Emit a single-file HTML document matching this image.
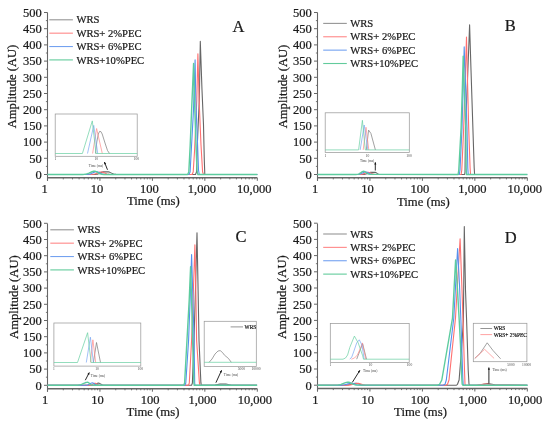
<!DOCTYPE html>
<html><head><meta charset="utf-8"><style>
html,body{margin:0;padding:0;background:#fff;}
svg{display:block;}
</style></head><body>
<svg width="550" height="423" viewBox="0 0 550 423" font-family="'Liberation Serif','Times New Roman',serif"><style>text.m{stroke:#1a1a1a;stroke-width:0.22px;paint-order:stroke}</style>
<rect width="550" height="423" fill="#fff"/>
<line x1="47.5" y1="12.5" x2="47.5" y2="180.8" stroke="#666" stroke-width="1.1"/>
<line x1="47.5" y1="177.8" x2="257.3" y2="177.8" stroke="#666" stroke-width="1.5"/>
<line x1="44" y1="174.5" x2="47.5" y2="174.5" stroke="#666" stroke-width="1.0"/>
<line x1="45.9" y1="166.4" x2="47.5" y2="166.4" stroke="#666" stroke-width="0.9"/>
<line x1="44" y1="158.3" x2="47.5" y2="158.3" stroke="#666" stroke-width="1.0"/>
<line x1="45.9" y1="150.2" x2="47.5" y2="150.2" stroke="#666" stroke-width="0.9"/>
<line x1="44" y1="142.1" x2="47.5" y2="142.1" stroke="#666" stroke-width="1.0"/>
<line x1="45.9" y1="134" x2="47.5" y2="134" stroke="#666" stroke-width="0.9"/>
<line x1="44" y1="125.9" x2="47.5" y2="125.9" stroke="#666" stroke-width="1.0"/>
<line x1="45.9" y1="117.8" x2="47.5" y2="117.8" stroke="#666" stroke-width="0.9"/>
<line x1="44" y1="109.7" x2="47.5" y2="109.7" stroke="#666" stroke-width="1.0"/>
<line x1="45.9" y1="101.6" x2="47.5" y2="101.6" stroke="#666" stroke-width="0.9"/>
<line x1="44" y1="93.5" x2="47.5" y2="93.5" stroke="#666" stroke-width="1.0"/>
<line x1="45.9" y1="85.4" x2="47.5" y2="85.4" stroke="#666" stroke-width="0.9"/>
<line x1="44" y1="77.3" x2="47.5" y2="77.3" stroke="#666" stroke-width="1.0"/>
<line x1="45.9" y1="69.2" x2="47.5" y2="69.2" stroke="#666" stroke-width="0.9"/>
<line x1="44" y1="61.1" x2="47.5" y2="61.1" stroke="#666" stroke-width="1.0"/>
<line x1="45.9" y1="53" x2="47.5" y2="53" stroke="#666" stroke-width="0.9"/>
<line x1="44" y1="44.9" x2="47.5" y2="44.9" stroke="#666" stroke-width="1.0"/>
<line x1="45.9" y1="36.8" x2="47.5" y2="36.8" stroke="#666" stroke-width="0.9"/>
<line x1="44" y1="28.7" x2="47.5" y2="28.7" stroke="#666" stroke-width="1.0"/>
<line x1="45.9" y1="20.6" x2="47.5" y2="20.6" stroke="#666" stroke-width="0.9"/>
<line x1="44" y1="12.5" x2="47.5" y2="12.5" stroke="#666" stroke-width="1.0"/>
<text class="m" x="41.7" y="178.8" font-size="12.5" text-anchor="end" fill="#1a1a1a" >0</text>
<text class="m" x="41.7" y="162.6" font-size="12.5" text-anchor="end" fill="#1a1a1a" >50</text>
<text class="m" x="41.7" y="146.4" font-size="12.5" text-anchor="end" fill="#1a1a1a" >100</text>
<text class="m" x="41.7" y="130.2" font-size="12.5" text-anchor="end" fill="#1a1a1a" >150</text>
<text class="m" x="41.7" y="114" font-size="12.5" text-anchor="end" fill="#1a1a1a" >200</text>
<text class="m" x="41.7" y="97.8" font-size="12.5" text-anchor="end" fill="#1a1a1a" >250</text>
<text class="m" x="41.7" y="81.6" font-size="12.5" text-anchor="end" fill="#1a1a1a" >300</text>
<text class="m" x="41.7" y="65.4" font-size="12.5" text-anchor="end" fill="#1a1a1a" >350</text>
<text class="m" x="41.7" y="49.2" font-size="12.5" text-anchor="end" fill="#1a1a1a" >400</text>
<text class="m" x="41.7" y="33" font-size="12.5" text-anchor="end" fill="#1a1a1a" >450</text>
<text class="m" x="41.7" y="16.8" font-size="12.5" text-anchor="end" fill="#1a1a1a" >500</text>
<line x1="47.5" y1="177.8" x2="47.5" y2="180.8" stroke="#666" stroke-width="1.0"/>
<line x1="63.29" y1="177.8" x2="63.29" y2="179.4" stroke="#666" stroke-width="0.9"/>
<line x1="72.53" y1="177.8" x2="72.53" y2="179.4" stroke="#666" stroke-width="0.9"/>
<line x1="79.08" y1="177.8" x2="79.08" y2="179.4" stroke="#666" stroke-width="0.9"/>
<line x1="84.16" y1="177.8" x2="84.16" y2="179.4" stroke="#666" stroke-width="0.9"/>
<line x1="88.31" y1="177.8" x2="88.31" y2="179.4" stroke="#666" stroke-width="0.9"/>
<line x1="91.83" y1="177.8" x2="91.83" y2="179.4" stroke="#666" stroke-width="0.9"/>
<line x1="94.87" y1="177.8" x2="94.87" y2="179.4" stroke="#666" stroke-width="0.9"/>
<line x1="97.55" y1="177.8" x2="97.55" y2="179.4" stroke="#666" stroke-width="0.9"/>
<line x1="99.95" y1="177.8" x2="99.95" y2="180.8" stroke="#666" stroke-width="1.0"/>
<line x1="115.74" y1="177.8" x2="115.74" y2="179.4" stroke="#666" stroke-width="0.9"/>
<line x1="124.98" y1="177.8" x2="124.98" y2="179.4" stroke="#666" stroke-width="0.9"/>
<line x1="131.53" y1="177.8" x2="131.53" y2="179.4" stroke="#666" stroke-width="0.9"/>
<line x1="136.61" y1="177.8" x2="136.61" y2="179.4" stroke="#666" stroke-width="0.9"/>
<line x1="140.76" y1="177.8" x2="140.76" y2="179.4" stroke="#666" stroke-width="0.9"/>
<line x1="144.28" y1="177.8" x2="144.28" y2="179.4" stroke="#666" stroke-width="0.9"/>
<line x1="147.32" y1="177.8" x2="147.32" y2="179.4" stroke="#666" stroke-width="0.9"/>
<line x1="150" y1="177.8" x2="150" y2="179.4" stroke="#666" stroke-width="0.9"/>
<line x1="152.4" y1="177.8" x2="152.4" y2="180.8" stroke="#666" stroke-width="1.0"/>
<line x1="168.19" y1="177.8" x2="168.19" y2="179.4" stroke="#666" stroke-width="0.9"/>
<line x1="177.43" y1="177.8" x2="177.43" y2="179.4" stroke="#666" stroke-width="0.9"/>
<line x1="183.98" y1="177.8" x2="183.98" y2="179.4" stroke="#666" stroke-width="0.9"/>
<line x1="189.06" y1="177.8" x2="189.06" y2="179.4" stroke="#666" stroke-width="0.9"/>
<line x1="193.21" y1="177.8" x2="193.21" y2="179.4" stroke="#666" stroke-width="0.9"/>
<line x1="196.73" y1="177.8" x2="196.73" y2="179.4" stroke="#666" stroke-width="0.9"/>
<line x1="199.77" y1="177.8" x2="199.77" y2="179.4" stroke="#666" stroke-width="0.9"/>
<line x1="202.45" y1="177.8" x2="202.45" y2="179.4" stroke="#666" stroke-width="0.9"/>
<line x1="204.85" y1="177.8" x2="204.85" y2="180.8" stroke="#666" stroke-width="1.0"/>
<line x1="220.64" y1="177.8" x2="220.64" y2="179.4" stroke="#666" stroke-width="0.9"/>
<line x1="229.88" y1="177.8" x2="229.88" y2="179.4" stroke="#666" stroke-width="0.9"/>
<line x1="236.43" y1="177.8" x2="236.43" y2="179.4" stroke="#666" stroke-width="0.9"/>
<line x1="241.51" y1="177.8" x2="241.51" y2="179.4" stroke="#666" stroke-width="0.9"/>
<line x1="245.66" y1="177.8" x2="245.66" y2="179.4" stroke="#666" stroke-width="0.9"/>
<line x1="249.18" y1="177.8" x2="249.18" y2="179.4" stroke="#666" stroke-width="0.9"/>
<line x1="252.22" y1="177.8" x2="252.22" y2="179.4" stroke="#666" stroke-width="0.9"/>
<line x1="254.9" y1="177.8" x2="254.9" y2="179.4" stroke="#666" stroke-width="0.9"/>
<line x1="257.3" y1="177.8" x2="257.3" y2="180.8" stroke="#666" stroke-width="1.0"/>
<text class="m" x="44.5" y="193.1" font-size="12.5" text-anchor="middle" fill="#1a1a1a" >1</text>
<text class="m" x="96.95" y="193.1" font-size="12.5" text-anchor="middle" fill="#1a1a1a" >10</text>
<text class="m" x="149.4" y="193.1" font-size="12.5" text-anchor="middle" fill="#1a1a1a" >100</text>
<text class="m" x="201.85" y="193.1" font-size="12.5" text-anchor="middle" fill="#1a1a1a" >1,000</text>
<text class="m" x="254.3" y="193.1" font-size="12.5" text-anchor="middle" fill="#1a1a1a" >10,000</text>
<text class="m" x="153.4" y="205" font-size="12.7" text-anchor="middle" fill="#1a1a1a" >Time (ms)</text>
<text class="m" x="0" y="0" font-size="12.6" text-anchor="middle" fill="#1a1a1a" transform="translate(16.1,86.5) rotate(-90)">Amplitude (AU)</text>
<text class="m" x="232.6" y="32" font-size="16.5" text-anchor="start" fill="#1a1a1a" >A</text>
<line x1="49.3" y1="19.8" x2="72.9" y2="19.8" stroke="#959595" stroke-width="1.1"/>
<text class="m" x="76.4" y="23.4" font-size="10.6" text-anchor="start" fill="#1a1a1a" >WRS</text>
<line x1="49.3" y1="33.17" x2="72.9" y2="33.17" stroke="#ff8888" stroke-width="1.1"/>
<text class="m" x="76.4" y="36.77" font-size="10.6" text-anchor="start" fill="#1a1a1a" >WRS+ 2%PEC</text>
<line x1="49.3" y1="46.54" x2="72.9" y2="46.54" stroke="#74a2f0" stroke-width="1.1"/>
<text class="m" x="76.4" y="50.14" font-size="10.6" text-anchor="start" fill="#1a1a1a" >WRS+ 6%PEC</text>
<line x1="49.3" y1="59.91" x2="72.9" y2="59.91" stroke="#62cb9c" stroke-width="1.1"/>
<text class="m" x="76.4" y="63.51" font-size="10.6" text-anchor="start" fill="#1a1a1a" >WRS+10%PEC</text>
<line x1="317.5" y1="12.5" x2="317.5" y2="180.8" stroke="#666" stroke-width="1.1"/>
<line x1="317.5" y1="177.8" x2="527.4" y2="177.8" stroke="#666" stroke-width="1.5"/>
<line x1="314" y1="174.5" x2="317.5" y2="174.5" stroke="#666" stroke-width="1.0"/>
<line x1="315.9" y1="166.4" x2="317.5" y2="166.4" stroke="#666" stroke-width="0.9"/>
<line x1="314" y1="158.3" x2="317.5" y2="158.3" stroke="#666" stroke-width="1.0"/>
<line x1="315.9" y1="150.2" x2="317.5" y2="150.2" stroke="#666" stroke-width="0.9"/>
<line x1="314" y1="142.1" x2="317.5" y2="142.1" stroke="#666" stroke-width="1.0"/>
<line x1="315.9" y1="134" x2="317.5" y2="134" stroke="#666" stroke-width="0.9"/>
<line x1="314" y1="125.9" x2="317.5" y2="125.9" stroke="#666" stroke-width="1.0"/>
<line x1="315.9" y1="117.8" x2="317.5" y2="117.8" stroke="#666" stroke-width="0.9"/>
<line x1="314" y1="109.7" x2="317.5" y2="109.7" stroke="#666" stroke-width="1.0"/>
<line x1="315.9" y1="101.6" x2="317.5" y2="101.6" stroke="#666" stroke-width="0.9"/>
<line x1="314" y1="93.5" x2="317.5" y2="93.5" stroke="#666" stroke-width="1.0"/>
<line x1="315.9" y1="85.4" x2="317.5" y2="85.4" stroke="#666" stroke-width="0.9"/>
<line x1="314" y1="77.3" x2="317.5" y2="77.3" stroke="#666" stroke-width="1.0"/>
<line x1="315.9" y1="69.2" x2="317.5" y2="69.2" stroke="#666" stroke-width="0.9"/>
<line x1="314" y1="61.1" x2="317.5" y2="61.1" stroke="#666" stroke-width="1.0"/>
<line x1="315.9" y1="53" x2="317.5" y2="53" stroke="#666" stroke-width="0.9"/>
<line x1="314" y1="44.9" x2="317.5" y2="44.9" stroke="#666" stroke-width="1.0"/>
<line x1="315.9" y1="36.8" x2="317.5" y2="36.8" stroke="#666" stroke-width="0.9"/>
<line x1="314" y1="28.7" x2="317.5" y2="28.7" stroke="#666" stroke-width="1.0"/>
<line x1="315.9" y1="20.6" x2="317.5" y2="20.6" stroke="#666" stroke-width="0.9"/>
<line x1="314" y1="12.5" x2="317.5" y2="12.5" stroke="#666" stroke-width="1.0"/>
<text class="m" x="311.7" y="178.8" font-size="12.5" text-anchor="end" fill="#1a1a1a" >0</text>
<text class="m" x="311.7" y="162.6" font-size="12.5" text-anchor="end" fill="#1a1a1a" >50</text>
<text class="m" x="311.7" y="146.4" font-size="12.5" text-anchor="end" fill="#1a1a1a" >100</text>
<text class="m" x="311.7" y="130.2" font-size="12.5" text-anchor="end" fill="#1a1a1a" >150</text>
<text class="m" x="311.7" y="114" font-size="12.5" text-anchor="end" fill="#1a1a1a" >200</text>
<text class="m" x="311.7" y="97.8" font-size="12.5" text-anchor="end" fill="#1a1a1a" >250</text>
<text class="m" x="311.7" y="81.6" font-size="12.5" text-anchor="end" fill="#1a1a1a" >300</text>
<text class="m" x="311.7" y="65.4" font-size="12.5" text-anchor="end" fill="#1a1a1a" >350</text>
<text class="m" x="311.7" y="49.2" font-size="12.5" text-anchor="end" fill="#1a1a1a" >400</text>
<text class="m" x="311.7" y="33" font-size="12.5" text-anchor="end" fill="#1a1a1a" >450</text>
<text class="m" x="311.7" y="16.8" font-size="12.5" text-anchor="end" fill="#1a1a1a" >500</text>
<line x1="317.5" y1="177.8" x2="317.5" y2="180.8" stroke="#666" stroke-width="1.0"/>
<line x1="333.29" y1="177.8" x2="333.29" y2="179.4" stroke="#666" stroke-width="0.9"/>
<line x1="342.53" y1="177.8" x2="342.53" y2="179.4" stroke="#666" stroke-width="0.9"/>
<line x1="349.08" y1="177.8" x2="349.08" y2="179.4" stroke="#666" stroke-width="0.9"/>
<line x1="354.16" y1="177.8" x2="354.16" y2="179.4" stroke="#666" stroke-width="0.9"/>
<line x1="358.31" y1="177.8" x2="358.31" y2="179.4" stroke="#666" stroke-width="0.9"/>
<line x1="361.83" y1="177.8" x2="361.83" y2="179.4" stroke="#666" stroke-width="0.9"/>
<line x1="364.87" y1="177.8" x2="364.87" y2="179.4" stroke="#666" stroke-width="0.9"/>
<line x1="367.55" y1="177.8" x2="367.55" y2="179.4" stroke="#666" stroke-width="0.9"/>
<line x1="369.95" y1="177.8" x2="369.95" y2="180.8" stroke="#666" stroke-width="1.0"/>
<line x1="385.74" y1="177.8" x2="385.74" y2="179.4" stroke="#666" stroke-width="0.9"/>
<line x1="394.98" y1="177.8" x2="394.98" y2="179.4" stroke="#666" stroke-width="0.9"/>
<line x1="401.53" y1="177.8" x2="401.53" y2="179.4" stroke="#666" stroke-width="0.9"/>
<line x1="406.61" y1="177.8" x2="406.61" y2="179.4" stroke="#666" stroke-width="0.9"/>
<line x1="410.76" y1="177.8" x2="410.76" y2="179.4" stroke="#666" stroke-width="0.9"/>
<line x1="414.28" y1="177.8" x2="414.28" y2="179.4" stroke="#666" stroke-width="0.9"/>
<line x1="417.32" y1="177.8" x2="417.32" y2="179.4" stroke="#666" stroke-width="0.9"/>
<line x1="420" y1="177.8" x2="420" y2="179.4" stroke="#666" stroke-width="0.9"/>
<line x1="422.4" y1="177.8" x2="422.4" y2="180.8" stroke="#666" stroke-width="1.0"/>
<line x1="438.19" y1="177.8" x2="438.19" y2="179.4" stroke="#666" stroke-width="0.9"/>
<line x1="447.43" y1="177.8" x2="447.43" y2="179.4" stroke="#666" stroke-width="0.9"/>
<line x1="453.98" y1="177.8" x2="453.98" y2="179.4" stroke="#666" stroke-width="0.9"/>
<line x1="459.06" y1="177.8" x2="459.06" y2="179.4" stroke="#666" stroke-width="0.9"/>
<line x1="463.21" y1="177.8" x2="463.21" y2="179.4" stroke="#666" stroke-width="0.9"/>
<line x1="466.73" y1="177.8" x2="466.73" y2="179.4" stroke="#666" stroke-width="0.9"/>
<line x1="469.77" y1="177.8" x2="469.77" y2="179.4" stroke="#666" stroke-width="0.9"/>
<line x1="472.45" y1="177.8" x2="472.45" y2="179.4" stroke="#666" stroke-width="0.9"/>
<line x1="474.85" y1="177.8" x2="474.85" y2="180.8" stroke="#666" stroke-width="1.0"/>
<line x1="490.64" y1="177.8" x2="490.64" y2="179.4" stroke="#666" stroke-width="0.9"/>
<line x1="499.88" y1="177.8" x2="499.88" y2="179.4" stroke="#666" stroke-width="0.9"/>
<line x1="506.43" y1="177.8" x2="506.43" y2="179.4" stroke="#666" stroke-width="0.9"/>
<line x1="511.51" y1="177.8" x2="511.51" y2="179.4" stroke="#666" stroke-width="0.9"/>
<line x1="515.66" y1="177.8" x2="515.66" y2="179.4" stroke="#666" stroke-width="0.9"/>
<line x1="519.18" y1="177.8" x2="519.18" y2="179.4" stroke="#666" stroke-width="0.9"/>
<line x1="522.22" y1="177.8" x2="522.22" y2="179.4" stroke="#666" stroke-width="0.9"/>
<line x1="524.9" y1="177.8" x2="524.9" y2="179.4" stroke="#666" stroke-width="0.9"/>
<line x1="527.3" y1="177.8" x2="527.3" y2="180.8" stroke="#666" stroke-width="1.0"/>
<text class="m" x="315" y="193.1" font-size="12.5" text-anchor="middle" fill="#1a1a1a" >1</text>
<text class="m" x="367.45" y="193.1" font-size="12.5" text-anchor="middle" fill="#1a1a1a" >10</text>
<text class="m" x="419.9" y="193.1" font-size="12.5" text-anchor="middle" fill="#1a1a1a" >100</text>
<text class="m" x="472.35" y="193.1" font-size="12.5" text-anchor="middle" fill="#1a1a1a" >1,000</text>
<text class="m" x="524.8" y="193.1" font-size="12.5" text-anchor="middle" fill="#1a1a1a" >10,000</text>
<text class="m" x="423.4" y="205.5" font-size="12.7" text-anchor="middle" fill="#1a1a1a" >Time (ms)</text>
<text class="m" x="0" y="0" font-size="12.6" text-anchor="middle" fill="#1a1a1a" transform="translate(287.1,86.5) rotate(-90)">Amplitude (AU)</text>
<text class="m" x="504.7" y="30.9" font-size="16.5" text-anchor="start" fill="#1a1a1a" >B</text>
<line x1="323.2" y1="23.4" x2="346.8" y2="23.4" stroke="#959595" stroke-width="1.1"/>
<text class="m" x="350.3" y="27" font-size="10.6" text-anchor="start" fill="#1a1a1a" >WRS</text>
<line x1="323.2" y1="36.77" x2="346.8" y2="36.77" stroke="#ff8888" stroke-width="1.1"/>
<text class="m" x="350.3" y="40.37" font-size="10.6" text-anchor="start" fill="#1a1a1a" >WRS+ 2%PEC</text>
<line x1="323.2" y1="50.14" x2="346.8" y2="50.14" stroke="#74a2f0" stroke-width="1.1"/>
<text class="m" x="350.3" y="53.74" font-size="10.6" text-anchor="start" fill="#1a1a1a" >WRS+ 6%PEC</text>
<line x1="323.2" y1="63.51" x2="346.8" y2="63.51" stroke="#62cb9c" stroke-width="1.1"/>
<text class="m" x="350.3" y="67.11" font-size="10.6" text-anchor="start" fill="#1a1a1a" >WRS+10%PEC</text>
<line x1="47.5" y1="223.5" x2="47.5" y2="391.7" stroke="#666" stroke-width="1.1"/>
<line x1="47.5" y1="388.7" x2="257.3" y2="388.7" stroke="#666" stroke-width="1.5"/>
<line x1="44" y1="385.3" x2="47.5" y2="385.3" stroke="#666" stroke-width="1.0"/>
<line x1="45.9" y1="377.2" x2="47.5" y2="377.2" stroke="#666" stroke-width="0.9"/>
<line x1="44" y1="369.1" x2="47.5" y2="369.1" stroke="#666" stroke-width="1.0"/>
<line x1="45.9" y1="361" x2="47.5" y2="361" stroke="#666" stroke-width="0.9"/>
<line x1="44" y1="352.9" x2="47.5" y2="352.9" stroke="#666" stroke-width="1.0"/>
<line x1="45.9" y1="344.8" x2="47.5" y2="344.8" stroke="#666" stroke-width="0.9"/>
<line x1="44" y1="336.7" x2="47.5" y2="336.7" stroke="#666" stroke-width="1.0"/>
<line x1="45.9" y1="328.6" x2="47.5" y2="328.6" stroke="#666" stroke-width="0.9"/>
<line x1="44" y1="320.5" x2="47.5" y2="320.5" stroke="#666" stroke-width="1.0"/>
<line x1="45.9" y1="312.4" x2="47.5" y2="312.4" stroke="#666" stroke-width="0.9"/>
<line x1="44" y1="304.3" x2="47.5" y2="304.3" stroke="#666" stroke-width="1.0"/>
<line x1="45.9" y1="296.2" x2="47.5" y2="296.2" stroke="#666" stroke-width="0.9"/>
<line x1="44" y1="288.1" x2="47.5" y2="288.1" stroke="#666" stroke-width="1.0"/>
<line x1="45.9" y1="280" x2="47.5" y2="280" stroke="#666" stroke-width="0.9"/>
<line x1="44" y1="271.9" x2="47.5" y2="271.9" stroke="#666" stroke-width="1.0"/>
<line x1="45.9" y1="263.8" x2="47.5" y2="263.8" stroke="#666" stroke-width="0.9"/>
<line x1="44" y1="255.7" x2="47.5" y2="255.7" stroke="#666" stroke-width="1.0"/>
<line x1="45.9" y1="247.6" x2="47.5" y2="247.6" stroke="#666" stroke-width="0.9"/>
<line x1="44" y1="239.5" x2="47.5" y2="239.5" stroke="#666" stroke-width="1.0"/>
<line x1="45.9" y1="231.4" x2="47.5" y2="231.4" stroke="#666" stroke-width="0.9"/>
<line x1="44" y1="223.3" x2="47.5" y2="223.3" stroke="#666" stroke-width="1.0"/>
<text class="m" x="41.7" y="389.6" font-size="12.5" text-anchor="end" fill="#1a1a1a" >0</text>
<text class="m" x="41.7" y="373.4" font-size="12.5" text-anchor="end" fill="#1a1a1a" >50</text>
<text class="m" x="41.7" y="357.2" font-size="12.5" text-anchor="end" fill="#1a1a1a" >100</text>
<text class="m" x="41.7" y="341" font-size="12.5" text-anchor="end" fill="#1a1a1a" >150</text>
<text class="m" x="41.7" y="324.8" font-size="12.5" text-anchor="end" fill="#1a1a1a" >200</text>
<text class="m" x="41.7" y="308.6" font-size="12.5" text-anchor="end" fill="#1a1a1a" >250</text>
<text class="m" x="41.7" y="292.4" font-size="12.5" text-anchor="end" fill="#1a1a1a" >300</text>
<text class="m" x="41.7" y="276.2" font-size="12.5" text-anchor="end" fill="#1a1a1a" >350</text>
<text class="m" x="41.7" y="260" font-size="12.5" text-anchor="end" fill="#1a1a1a" >400</text>
<text class="m" x="41.7" y="243.8" font-size="12.5" text-anchor="end" fill="#1a1a1a" >450</text>
<text class="m" x="41.7" y="227.6" font-size="12.5" text-anchor="end" fill="#1a1a1a" >500</text>
<line x1="47.5" y1="388.7" x2="47.5" y2="391.7" stroke="#666" stroke-width="1.0"/>
<line x1="63.29" y1="388.7" x2="63.29" y2="390.3" stroke="#666" stroke-width="0.9"/>
<line x1="72.53" y1="388.7" x2="72.53" y2="390.3" stroke="#666" stroke-width="0.9"/>
<line x1="79.08" y1="388.7" x2="79.08" y2="390.3" stroke="#666" stroke-width="0.9"/>
<line x1="84.16" y1="388.7" x2="84.16" y2="390.3" stroke="#666" stroke-width="0.9"/>
<line x1="88.31" y1="388.7" x2="88.31" y2="390.3" stroke="#666" stroke-width="0.9"/>
<line x1="91.83" y1="388.7" x2="91.83" y2="390.3" stroke="#666" stroke-width="0.9"/>
<line x1="94.87" y1="388.7" x2="94.87" y2="390.3" stroke="#666" stroke-width="0.9"/>
<line x1="97.55" y1="388.7" x2="97.55" y2="390.3" stroke="#666" stroke-width="0.9"/>
<line x1="99.95" y1="388.7" x2="99.95" y2="391.7" stroke="#666" stroke-width="1.0"/>
<line x1="115.74" y1="388.7" x2="115.74" y2="390.3" stroke="#666" stroke-width="0.9"/>
<line x1="124.98" y1="388.7" x2="124.98" y2="390.3" stroke="#666" stroke-width="0.9"/>
<line x1="131.53" y1="388.7" x2="131.53" y2="390.3" stroke="#666" stroke-width="0.9"/>
<line x1="136.61" y1="388.7" x2="136.61" y2="390.3" stroke="#666" stroke-width="0.9"/>
<line x1="140.76" y1="388.7" x2="140.76" y2="390.3" stroke="#666" stroke-width="0.9"/>
<line x1="144.28" y1="388.7" x2="144.28" y2="390.3" stroke="#666" stroke-width="0.9"/>
<line x1="147.32" y1="388.7" x2="147.32" y2="390.3" stroke="#666" stroke-width="0.9"/>
<line x1="150" y1="388.7" x2="150" y2="390.3" stroke="#666" stroke-width="0.9"/>
<line x1="152.4" y1="388.7" x2="152.4" y2="391.7" stroke="#666" stroke-width="1.0"/>
<line x1="168.19" y1="388.7" x2="168.19" y2="390.3" stroke="#666" stroke-width="0.9"/>
<line x1="177.43" y1="388.7" x2="177.43" y2="390.3" stroke="#666" stroke-width="0.9"/>
<line x1="183.98" y1="388.7" x2="183.98" y2="390.3" stroke="#666" stroke-width="0.9"/>
<line x1="189.06" y1="388.7" x2="189.06" y2="390.3" stroke="#666" stroke-width="0.9"/>
<line x1="193.21" y1="388.7" x2="193.21" y2="390.3" stroke="#666" stroke-width="0.9"/>
<line x1="196.73" y1="388.7" x2="196.73" y2="390.3" stroke="#666" stroke-width="0.9"/>
<line x1="199.77" y1="388.7" x2="199.77" y2="390.3" stroke="#666" stroke-width="0.9"/>
<line x1="202.45" y1="388.7" x2="202.45" y2="390.3" stroke="#666" stroke-width="0.9"/>
<line x1="204.85" y1="388.7" x2="204.85" y2="391.7" stroke="#666" stroke-width="1.0"/>
<line x1="220.64" y1="388.7" x2="220.64" y2="390.3" stroke="#666" stroke-width="0.9"/>
<line x1="229.88" y1="388.7" x2="229.88" y2="390.3" stroke="#666" stroke-width="0.9"/>
<line x1="236.43" y1="388.7" x2="236.43" y2="390.3" stroke="#666" stroke-width="0.9"/>
<line x1="241.51" y1="388.7" x2="241.51" y2="390.3" stroke="#666" stroke-width="0.9"/>
<line x1="245.66" y1="388.7" x2="245.66" y2="390.3" stroke="#666" stroke-width="0.9"/>
<line x1="249.18" y1="388.7" x2="249.18" y2="390.3" stroke="#666" stroke-width="0.9"/>
<line x1="252.22" y1="388.7" x2="252.22" y2="390.3" stroke="#666" stroke-width="0.9"/>
<line x1="254.9" y1="388.7" x2="254.9" y2="390.3" stroke="#666" stroke-width="0.9"/>
<line x1="257.3" y1="388.7" x2="257.3" y2="391.7" stroke="#666" stroke-width="1.0"/>
<text class="m" x="45.1" y="404.3" font-size="12.5" text-anchor="middle" fill="#1a1a1a" >1</text>
<text class="m" x="97.55" y="404.3" font-size="12.5" text-anchor="middle" fill="#1a1a1a" >10</text>
<text class="m" x="150" y="404.3" font-size="12.5" text-anchor="middle" fill="#1a1a1a" >100</text>
<text class="m" x="202.45" y="404.3" font-size="12.5" text-anchor="middle" fill="#1a1a1a" >1,000</text>
<text class="m" x="254.9" y="404.3" font-size="12.5" text-anchor="middle" fill="#1a1a1a" >10,000</text>
<text class="m" x="153" y="416.3" font-size="12.7" text-anchor="middle" fill="#1a1a1a" >Time (ms)</text>
<text class="m" x="0" y="0" font-size="12.6" text-anchor="middle" fill="#1a1a1a" transform="translate(17.8,297.1) rotate(-90)">Amplitude (AU)</text>
<text class="m" x="235.5" y="242" font-size="16.5" text-anchor="start" fill="#1a1a1a" >C</text>
<line x1="50.3" y1="229.8" x2="73.9" y2="229.8" stroke="#959595" stroke-width="1.1"/>
<text class="m" x="77.4" y="233.4" font-size="10.6" text-anchor="start" fill="#1a1a1a" >WRS</text>
<line x1="50.3" y1="243.17" x2="73.9" y2="243.17" stroke="#ff8888" stroke-width="1.1"/>
<text class="m" x="77.4" y="246.77" font-size="10.6" text-anchor="start" fill="#1a1a1a" >WRS+ 2%PEC</text>
<line x1="50.3" y1="256.54" x2="73.9" y2="256.54" stroke="#74a2f0" stroke-width="1.1"/>
<text class="m" x="77.4" y="260.14" font-size="10.6" text-anchor="start" fill="#1a1a1a" >WRS+ 6%PEC</text>
<line x1="50.3" y1="269.91" x2="73.9" y2="269.91" stroke="#62cb9c" stroke-width="1.1"/>
<text class="m" x="77.4" y="273.51" font-size="10.6" text-anchor="start" fill="#1a1a1a" >WRS+10%PEC</text>
<line x1="317.5" y1="223.5" x2="317.5" y2="391.5" stroke="#666" stroke-width="1.1"/>
<line x1="317.5" y1="388.5" x2="527.5" y2="388.5" stroke="#666" stroke-width="1.5"/>
<line x1="314" y1="385.2" x2="317.5" y2="385.2" stroke="#666" stroke-width="1.0"/>
<line x1="315.9" y1="377.1" x2="317.5" y2="377.1" stroke="#666" stroke-width="0.9"/>
<line x1="314" y1="369" x2="317.5" y2="369" stroke="#666" stroke-width="1.0"/>
<line x1="315.9" y1="360.9" x2="317.5" y2="360.9" stroke="#666" stroke-width="0.9"/>
<line x1="314" y1="352.8" x2="317.5" y2="352.8" stroke="#666" stroke-width="1.0"/>
<line x1="315.9" y1="344.7" x2="317.5" y2="344.7" stroke="#666" stroke-width="0.9"/>
<line x1="314" y1="336.6" x2="317.5" y2="336.6" stroke="#666" stroke-width="1.0"/>
<line x1="315.9" y1="328.5" x2="317.5" y2="328.5" stroke="#666" stroke-width="0.9"/>
<line x1="314" y1="320.4" x2="317.5" y2="320.4" stroke="#666" stroke-width="1.0"/>
<line x1="315.9" y1="312.3" x2="317.5" y2="312.3" stroke="#666" stroke-width="0.9"/>
<line x1="314" y1="304.2" x2="317.5" y2="304.2" stroke="#666" stroke-width="1.0"/>
<line x1="315.9" y1="296.1" x2="317.5" y2="296.1" stroke="#666" stroke-width="0.9"/>
<line x1="314" y1="288" x2="317.5" y2="288" stroke="#666" stroke-width="1.0"/>
<line x1="315.9" y1="279.9" x2="317.5" y2="279.9" stroke="#666" stroke-width="0.9"/>
<line x1="314" y1="271.8" x2="317.5" y2="271.8" stroke="#666" stroke-width="1.0"/>
<line x1="315.9" y1="263.7" x2="317.5" y2="263.7" stroke="#666" stroke-width="0.9"/>
<line x1="314" y1="255.6" x2="317.5" y2="255.6" stroke="#666" stroke-width="1.0"/>
<line x1="315.9" y1="247.5" x2="317.5" y2="247.5" stroke="#666" stroke-width="0.9"/>
<line x1="314" y1="239.4" x2="317.5" y2="239.4" stroke="#666" stroke-width="1.0"/>
<line x1="315.9" y1="231.3" x2="317.5" y2="231.3" stroke="#666" stroke-width="0.9"/>
<line x1="314" y1="223.2" x2="317.5" y2="223.2" stroke="#666" stroke-width="1.0"/>
<text class="m" x="311.7" y="389.5" font-size="12.5" text-anchor="end" fill="#1a1a1a" >0</text>
<text class="m" x="311.7" y="373.3" font-size="12.5" text-anchor="end" fill="#1a1a1a" >50</text>
<text class="m" x="311.7" y="357.1" font-size="12.5" text-anchor="end" fill="#1a1a1a" >100</text>
<text class="m" x="311.7" y="340.9" font-size="12.5" text-anchor="end" fill="#1a1a1a" >150</text>
<text class="m" x="311.7" y="324.7" font-size="12.5" text-anchor="end" fill="#1a1a1a" >200</text>
<text class="m" x="311.7" y="308.5" font-size="12.5" text-anchor="end" fill="#1a1a1a" >250</text>
<text class="m" x="311.7" y="292.3" font-size="12.5" text-anchor="end" fill="#1a1a1a" >300</text>
<text class="m" x="311.7" y="276.1" font-size="12.5" text-anchor="end" fill="#1a1a1a" >350</text>
<text class="m" x="311.7" y="259.9" font-size="12.5" text-anchor="end" fill="#1a1a1a" >400</text>
<text class="m" x="311.7" y="243.7" font-size="12.5" text-anchor="end" fill="#1a1a1a" >450</text>
<text class="m" x="311.7" y="227.5" font-size="12.5" text-anchor="end" fill="#1a1a1a" >500</text>
<line x1="317.5" y1="388.5" x2="317.5" y2="391.5" stroke="#666" stroke-width="1.0"/>
<line x1="333.29" y1="388.5" x2="333.29" y2="390.1" stroke="#666" stroke-width="0.9"/>
<line x1="342.53" y1="388.5" x2="342.53" y2="390.1" stroke="#666" stroke-width="0.9"/>
<line x1="349.08" y1="388.5" x2="349.08" y2="390.1" stroke="#666" stroke-width="0.9"/>
<line x1="354.16" y1="388.5" x2="354.16" y2="390.1" stroke="#666" stroke-width="0.9"/>
<line x1="358.31" y1="388.5" x2="358.31" y2="390.1" stroke="#666" stroke-width="0.9"/>
<line x1="361.83" y1="388.5" x2="361.83" y2="390.1" stroke="#666" stroke-width="0.9"/>
<line x1="364.87" y1="388.5" x2="364.87" y2="390.1" stroke="#666" stroke-width="0.9"/>
<line x1="367.55" y1="388.5" x2="367.55" y2="390.1" stroke="#666" stroke-width="0.9"/>
<line x1="369.95" y1="388.5" x2="369.95" y2="391.5" stroke="#666" stroke-width="1.0"/>
<line x1="385.74" y1="388.5" x2="385.74" y2="390.1" stroke="#666" stroke-width="0.9"/>
<line x1="394.98" y1="388.5" x2="394.98" y2="390.1" stroke="#666" stroke-width="0.9"/>
<line x1="401.53" y1="388.5" x2="401.53" y2="390.1" stroke="#666" stroke-width="0.9"/>
<line x1="406.61" y1="388.5" x2="406.61" y2="390.1" stroke="#666" stroke-width="0.9"/>
<line x1="410.76" y1="388.5" x2="410.76" y2="390.1" stroke="#666" stroke-width="0.9"/>
<line x1="414.28" y1="388.5" x2="414.28" y2="390.1" stroke="#666" stroke-width="0.9"/>
<line x1="417.32" y1="388.5" x2="417.32" y2="390.1" stroke="#666" stroke-width="0.9"/>
<line x1="420" y1="388.5" x2="420" y2="390.1" stroke="#666" stroke-width="0.9"/>
<line x1="422.4" y1="388.5" x2="422.4" y2="391.5" stroke="#666" stroke-width="1.0"/>
<line x1="438.19" y1="388.5" x2="438.19" y2="390.1" stroke="#666" stroke-width="0.9"/>
<line x1="447.43" y1="388.5" x2="447.43" y2="390.1" stroke="#666" stroke-width="0.9"/>
<line x1="453.98" y1="388.5" x2="453.98" y2="390.1" stroke="#666" stroke-width="0.9"/>
<line x1="459.06" y1="388.5" x2="459.06" y2="390.1" stroke="#666" stroke-width="0.9"/>
<line x1="463.21" y1="388.5" x2="463.21" y2="390.1" stroke="#666" stroke-width="0.9"/>
<line x1="466.73" y1="388.5" x2="466.73" y2="390.1" stroke="#666" stroke-width="0.9"/>
<line x1="469.77" y1="388.5" x2="469.77" y2="390.1" stroke="#666" stroke-width="0.9"/>
<line x1="472.45" y1="388.5" x2="472.45" y2="390.1" stroke="#666" stroke-width="0.9"/>
<line x1="474.85" y1="388.5" x2="474.85" y2="391.5" stroke="#666" stroke-width="1.0"/>
<line x1="490.64" y1="388.5" x2="490.64" y2="390.1" stroke="#666" stroke-width="0.9"/>
<line x1="499.88" y1="388.5" x2="499.88" y2="390.1" stroke="#666" stroke-width="0.9"/>
<line x1="506.43" y1="388.5" x2="506.43" y2="390.1" stroke="#666" stroke-width="0.9"/>
<line x1="511.51" y1="388.5" x2="511.51" y2="390.1" stroke="#666" stroke-width="0.9"/>
<line x1="515.66" y1="388.5" x2="515.66" y2="390.1" stroke="#666" stroke-width="0.9"/>
<line x1="519.18" y1="388.5" x2="519.18" y2="390.1" stroke="#666" stroke-width="0.9"/>
<line x1="522.22" y1="388.5" x2="522.22" y2="390.1" stroke="#666" stroke-width="0.9"/>
<line x1="524.9" y1="388.5" x2="524.9" y2="390.1" stroke="#666" stroke-width="0.9"/>
<line x1="527.3" y1="388.5" x2="527.3" y2="391.5" stroke="#666" stroke-width="1.0"/>
<text class="m" x="315.3" y="404.1" font-size="12.5" text-anchor="middle" fill="#1a1a1a" >1</text>
<text class="m" x="367.75" y="404.1" font-size="12.5" text-anchor="middle" fill="#1a1a1a" >10</text>
<text class="m" x="420.2" y="404.1" font-size="12.5" text-anchor="middle" fill="#1a1a1a" >100</text>
<text class="m" x="472.65" y="404.1" font-size="12.5" text-anchor="middle" fill="#1a1a1a" >1,000</text>
<text class="m" x="525.1" y="404.1" font-size="12.5" text-anchor="middle" fill="#1a1a1a" >10,000</text>
<text class="m" x="420.5" y="416.3" font-size="12.7" text-anchor="middle" fill="#1a1a1a" >Time (ms)</text>
<text class="m" x="0" y="0" font-size="12.6" text-anchor="middle" fill="#1a1a1a" transform="translate(286.1,297.1) rotate(-90)">Amplitude (AU)</text>
<text class="m" x="504.7" y="242.5" font-size="16.5" text-anchor="start" fill="#1a1a1a" >D</text>
<line x1="323.2" y1="234" x2="346.8" y2="234" stroke="#959595" stroke-width="1.1"/>
<text class="m" x="350.3" y="237.6" font-size="10.6" text-anchor="start" fill="#1a1a1a" >WRS</text>
<line x1="323.2" y1="247.37" x2="346.8" y2="247.37" stroke="#ff8888" stroke-width="1.1"/>
<text class="m" x="350.3" y="250.97" font-size="10.6" text-anchor="start" fill="#1a1a1a" >WRS+ 2%PEC</text>
<line x1="323.2" y1="260.74" x2="346.8" y2="260.74" stroke="#74a2f0" stroke-width="1.1"/>
<text class="m" x="350.3" y="264.34" font-size="10.6" text-anchor="start" fill="#1a1a1a" >WRS+ 6%PEC</text>
<line x1="323.2" y1="274.11" x2="346.8" y2="274.11" stroke="#62cb9c" stroke-width="1.1"/>
<text class="m" x="350.3" y="277.71" font-size="10.6" text-anchor="start" fill="#1a1a1a" >WRS+10%PEC</text>
<polyline points="47.5,174.5 95,174.45 96.5,174.32 97.5,174.13 98.5,173.83 99.5,173.39 101.5,172.34 102,172.12 102.5,171.95 103,171.84 108,171.8 108.5,171.84 109,171.95 109.5,172.12 112.5,173.62 113.5,174 114.5,174.24 116,174.42 195.5,174.5 196.5,172 197.3,145 199.3,100 200.3,41.4 202,90 203.5,125 204.3,160 204.8,174.5 257.3,174.5" fill="none" stroke="#666666" stroke-width="1.1" stroke-linejoin="round" />
<polyline points="47.5,174.5 91.5,174.44 93,174.32 94.5,174.05 95.5,173.77 99,172.38 100,172.1 100.5,172.03 101,172 101.5,172.03 102,172.1 103,172.38 106,173.6 107,173.92 108,174.16 109.5,174.37 192,174.5 193.2,172 194.6,150 196.8,100 197.9,53.8 199.1,100 201,145 202.6,172 203.5,174.5 257,174.5" fill="none" stroke="#ff7070" stroke-width="1.1" stroke-linejoin="round" />
<polyline points="47.5,174.5 86.5,174.45 88.5,174.29 89.5,174.12 90.5,173.86 91.5,173.49 94.5,172.12 95,171.95 95.5,171.81 96,171.73 96.5,171.7 97,171.73 97.5,171.83 98,171.99 99,172.44 101,173.46 102,173.86 103,174.14 104,174.32 188.9,174.5 190.1,172 193.5,110 195.1,59.9 195.8,100 197.6,145 198.5,170 199.3,174.5 257.3,174.5" fill="none" stroke="#5590ee" stroke-width="1.1" stroke-linejoin="round" />
<polyline points="47.5,174.5 82.5,174.44 84.5,174.31 86,174.07 87.5,173.68 89,173.1 92,171.74 93,171.4 93.5,171.29 94,171.22 94.5,171.2 95,171.24 95.5,171.36 96,171.54 97,172.07 99,173.27 100,173.75 101,174.08 102,174.29 104,174.46 187.6,174.5 188.8,172 190.2,145 191.6,110 193.6,63.4 194.5,100 196,145 197,170 197.8,174.5 257.3,174.5" fill="none" stroke="#5ccc9e" stroke-width="1.4" stroke-linejoin="round" />
<polyline points="317.5,174.5 362.5,174.46 364,174.36 365,174.2 366,173.95 367.5,173.39 369,172.74 370,172.42 370.5,172.33 375,172.3 375.5,172.38 376,172.61 377.5,173.66 378,173.95 378.5,174.17 379,174.31 380,174.45 464.6,174.5 465,172 465.5,128 467.5,80 469.6,24.9 471,70 474.2,168 474.6,174.5 527.1,174.5" fill="none" stroke="#666666" stroke-width="1.1" stroke-linejoin="round" />
<polyline points="317.5,174.5 359.5,174.46 361,174.36 362,174.2 363,173.95 364.5,173.39 366,172.74 367,172.42 367.5,172.33 368,172.3 368.5,172.33 369,172.42 370,172.74 372.5,173.79 373.5,174.09 374.5,174.29 376.5,174.46 461.1,174.5 461.8,170 463.7,128 465.2,80 466.5,37 467.5,80 468.7,128 470.1,168 470.5,174.5 527,174.5" fill="none" stroke="#ff7070" stroke-width="1.1" stroke-linejoin="round" />
<polyline points="317.5,174.5 357,174.45 358.5,174.33 359.5,174.15 360.5,173.85 361.5,173.43 363.5,172.42 364,172.21 364.5,172.04 365,171.94 365.5,171.9 366,171.94 366.5,172.04 367,172.21 370,173.66 371,174.02 372,174.25 373.5,174.43 459.3,174.5 460,170 462,128 463.2,85 464.2,46.9 467,128 467.8,168 468.2,174.5 527.2,174.5" fill="none" stroke="#5590ee" stroke-width="1.1" stroke-linejoin="round" />
<polyline points="317.5,174.5 356,174.46 357,174.39 358,174.22 358.5,174.07 359,173.87 359.5,173.61 360.5,172.94 362,171.83 362.5,171.55 363,171.36 363.5,171.3 364,171.36 364.5,171.53 365,171.79 367,173.21 367.5,173.52 368,173.78 368.5,174 369,174.16 370,174.36 458.1,174.5 458.8,170 461.1,128 462.3,90 463.2,56.1 464.3,90 465.8,128 466.2,168 466.4,174.5 527.4,174.5" fill="none" stroke="#5ccc9e" stroke-width="1.4" stroke-linejoin="round" />
<polyline points="47.5,385.3 92,385.27 93,385.2 94,385.03 94.5,384.88 95,384.68 96,384.15 97,383.56 97.5,383.32 98,383.16 98.5,383.1 99,383.17 99.5,383.36 101.5,384.59 102,384.82 102.5,385 103,385.12 104,385.25 191.6,385.3 192.4,383 194,340 195.6,285 197,232.8 198,285 199,340 200.9,383 201.5,385.3 213,385.23 215,385.07 220,384.11 221,384.01 226,384.08 227,384.19 230,384.97 231,385.14 257,385.3" fill="none" stroke="#666666" stroke-width="1.1" stroke-linejoin="round" />
<polyline points="47.5,385.3 89,385.28 90,385.21 91,385.03 91.5,384.87 92,384.65 93.5,383.79 94,383.54 94.5,383.36 95,383.3 95.5,383.36 96,383.54 98,384.65 98.5,384.87 99,385.03 100,385.21 188.5,385.3 189.3,383 191.6,340 193.4,290 194.9,244.9 195.8,290 196.6,340 199.4,383 200,385.3 257,385.3" fill="none" stroke="#ff7070" stroke-width="1.1" stroke-linejoin="round" />
<polyline points="47.5,385.3 85,385.27 86.5,385.17 87.5,384.98 88.5,384.63 89.5,384.13 91,383.3 91.5,383.08 92,382.95 92.5,382.9 93,382.97 93.5,383.18 94,383.49 95,384.2 95.5,384.52 96,384.78 96.5,384.98 97,385.11 98,385.25 184.9,385.3 185.8,383 188.6,340 190.3,295 191.6,254.5 194.1,340 194.7,383 195,385.3 257,385.3" fill="none" stroke="#5590ee" stroke-width="1.1" stroke-linejoin="round" />
<polyline points="47.5,385.3 76.5,385.23 78.5,385.06 80,384.78 81.5,384.33 85,382.83 86,382.5 86.5,382.39 87,382.32 87.5,382.3 88,382.39 88.5,382.65 89,383.04 90,383.93 90.5,384.33 91,384.65 91.5,384.89 92,385.06 92.5,385.17 93.5,385.27 183.7,385.3 184.6,383 189.2,300 190.6,266.8 191.6,300 192.6,340 193.9,383 194.2,385.3 257.2,385.3" fill="none" stroke="#5ccc9e" stroke-width="1.4" stroke-linejoin="round" />
<polyline points="317.5,385.2 345.5,385.14 348,384.94 350,384.58 354,383.52 355,383.36 356,383.3 356.5,383.33 357,383.4 358,383.68 360.5,384.58 361.5,384.85 363,385.08 456.5,385.2 457.5,384.3 459.1,380 461.5,350 463.4,320 464.3,226.6 465.5,290 466.6,320 468.2,370 469,384.3 469.8,385.2 478.3,385.12 480.8,384.88 486.3,383.74 487.3,383.62 488.3,383.6 489.3,383.68 494.8,384.82 497.3,385.09 527.3,385.2" fill="none" stroke="#666666" stroke-width="1.1" stroke-linejoin="round" />
<polyline points="317.5,385.2 348,385.13 350.5,384.92 352.5,384.55 356,383.65 357,383.48 358,383.4 358.5,383.41 359,383.46 360,383.7 362.5,384.56 363.5,384.82 365,385.06 445.8,385.2 447.5,384.3 449,380 455.5,318 460.1,238.7 462,290 463.3,330 464.5,370 465,384.3 465.8,385.2 476.8,385.11 479.8,384.84 484.3,384.1 485.8,384 487.3,384.06 493.3,384.97 527.3,385.2" fill="none" stroke="#ff7070" stroke-width="1.1" stroke-linejoin="round" />
<polyline points="317.5,385.2 341,385.14 343,384.99 344.5,384.77 347,384.14 349.5,383.44 350.5,383.26 351.5,383.2 352,383.23 352.5,383.31 353.5,383.6 356,384.55 357,384.83 358,385.01 360.5,385.18 443,385.2 445,384.3 446.3,380 453.8,318 457.6,248.5 459.5,285 460.9,320 462.8,378 463.2,384.3 464,385.2 527.5,385.2" fill="none" stroke="#5590ee" stroke-width="1.1" stroke-linejoin="round" />
<polyline points="317.5,385.2 336,385.12 338,384.97 339.5,384.74 341,384.37 345.5,382.69 346.5,382.41 347.5,382.24 348,382.2 348.5,382.21 349,382.28 349.5,382.4 350.5,382.78 353,384.03 354,384.44 355,384.75 356,384.95 358,385.14 437.5,385.2 439.6,384.3 441.8,380 452.5,318 455.6,260 457.5,290 459.2,320 460.5,345 461.6,375 462.2,384.3 463,385.2 527.5,385.2" fill="none" stroke="#5ccc9e" stroke-width="1.4" stroke-linejoin="round" />
<rect x="55.2" y="114" width="82" height="42.3" fill="#fff" stroke="#9a9a9a" stroke-width="0.75"/>
<polyline points="95.5,153.5 96.8,142 98.3,134 99.6,131.4 100.9,131.6 102.2,134 105,143 107.5,150.5 109.5,153.5" fill="none" stroke="#7a7a7a" stroke-width="0.7" stroke-linejoin="round" />
<polyline points="92.6,153.5 96.6,128.5 102.3,153.5" fill="none" stroke="#ff8a8a" stroke-width="0.7" stroke-linejoin="round" />
<polyline points="87.5,153.5 93.75,125.4 97.7,153.5" fill="none" stroke="#78a5f2" stroke-width="0.7" stroke-linejoin="round" />
<polyline points="55.2,153.5 82.4,153.5 92.3,120.9 96,153.5 137.2,153.5" fill="none" stroke="#66cfa0" stroke-width="0.7" stroke-linejoin="round" />
<text x="55.5" y="160.3" font-size="3.6" text-anchor="middle" fill="#444" >1</text>
<text x="96.3" y="160.3" font-size="3.6" text-anchor="middle" fill="#444" >10</text>
<text x="136.4" y="160.3" font-size="3.6" text-anchor="middle" fill="#444" >100</text>
<text x="96" y="166.5" font-size="3.45" text-anchor="middle" fill="#444" >Time (ms)</text>
<line x1="104.4" y1="162" x2="107.5" y2="169.8" stroke="#111" stroke-width="0.9"/>
<polygon points="104.4,162 106.17,163.62 104.23,164.39" fill="#111"/>
<rect x="325.2" y="112.8" width="84.1" height="39.8" fill="#fff" stroke="#9a9a9a" stroke-width="0.75"/>
<polyline points="366.3,149.9 368.6,130.1 370.9,133.4 375.4,149.9" fill="none" stroke="#7a7a7a" stroke-width="0.7" stroke-linejoin="round" />
<polyline points="363.2,149.9 366,127.3 368.8,149.9" fill="none" stroke="#ff8a8a" stroke-width="0.7" stroke-linejoin="round" />
<polyline points="360.2,149.9 364.2,125 367.8,149.9" fill="none" stroke="#78a5f2" stroke-width="0.7" stroke-linejoin="round" />
<polyline points="325.2,149.9 358.6,149.9 362.4,120.3 365.3,149.9 409.3,149.9" fill="none" stroke="#66cfa0" stroke-width="0.7" stroke-linejoin="round" />
<text x="325.5" y="156.8" font-size="3.6" text-anchor="middle" fill="#444" >1</text>
<text x="367.5" y="156.8" font-size="3.6" text-anchor="middle" fill="#444" >10</text>
<text x="409" y="156.8" font-size="3.6" text-anchor="middle" fill="#444" >100</text>
<text x="367.1" y="162.3" font-size="3.45" text-anchor="middle" fill="#444" >Time (ms)</text>
<line x1="375.3" y1="162.3" x2="375.3" y2="170.5" stroke="#111" stroke-width="0.9"/>
<polygon points="375.3,162.3 376.34,164.46 374.26,164.46" fill="#111"/>
<rect x="53.9" y="323" width="86.9" height="43.1" fill="#fff" stroke="#9a9a9a" stroke-width="0.75"/>
<polyline points="93.4,362.5 96.5,342.5 100.5,362.5" fill="none" stroke="#7a7a7a" stroke-width="0.7" stroke-linejoin="round" />
<polyline points="90.4,362.5 92.9,339.8 95.7,362.5" fill="none" stroke="#ff8a8a" stroke-width="0.7" stroke-linejoin="round" />
<polyline points="86.3,362.5 90.4,337.2 93.4,362.5" fill="none" stroke="#78a5f2" stroke-width="0.7" stroke-linejoin="round" />
<polyline points="53.9,362.5 77.5,362.5 87.6,332.7 91.1,362.5 140.8,362.5" fill="none" stroke="#66cfa0" stroke-width="0.7" stroke-linejoin="round" />
<text x="54" y="369.5" font-size="3.6" text-anchor="middle" fill="#444" >1</text>
<text x="97" y="369.5" font-size="3.6" text-anchor="middle" fill="#444" >10</text>
<text x="140.4" y="369.5" font-size="3.6" text-anchor="middle" fill="#444" >100</text>
<text x="97.9" y="377" font-size="3.45" text-anchor="middle" fill="#444" >Time (ms)</text>
<line x1="89.3" y1="372.5" x2="85.3" y2="380.2" stroke="#111" stroke-width="0.9"/>
<polygon points="89.3,372.5 89.23,374.9 87.38,373.94" fill="#111"/>
<rect x="204.2" y="321.3" width="52.1" height="45.1" fill="#fff" stroke="#9a9a9a" stroke-width="0.75"/>
<polyline points="209.1,362.3 212,359 215,354 218,351 220.2,350.6 222.5,352.5 224.5,355.2 226,356.4 228.5,358.5 231.3,362.3" fill="none" stroke="#7a7a7a" stroke-width="0.7" stroke-linejoin="round" />
<line x1="204.2" y1="362.3" x2="256.3" y2="362.3" stroke="#66cfa0" stroke-width="0.7"/>
<text x="241.4" y="369.6" font-size="3.6" text-anchor="middle" fill="#444" >5000</text>
<text x="256" y="369.6" font-size="3.6" text-anchor="middle" fill="#444" >10000</text>
<text x="231" y="376" font-size="3.45" text-anchor="middle" fill="#444" >Time (ms)</text>
<line x1="221.6" y1="370.3" x2="215.9" y2="382.7" stroke="#111" stroke-width="0.9"/>
<polygon points="221.6,370.3 221.65,372.7 219.75,371.83" fill="#111"/>
<line x1="230.6" y1="326.9" x2="243" y2="326.9" stroke="#7a7a7a" stroke-width="0.8"/>
<text x="244.6" y="328.8" font-size="5.4" text-anchor="start" fill="#111" stroke="#111" stroke-width="0.18">WRS</text>
<rect x="330.3" y="323.5" width="78.9" height="39" fill="#fff" stroke="#9a9a9a" stroke-width="0.75"/>
<polyline points="356.7,359.2 362.6,343.6 366.5,359.2" fill="none" stroke="#7a7a7a" stroke-width="0.7" stroke-linejoin="round" />
<polyline points="351.4,359.2 354.5,358 357.4,355 360.8,347.4 362.3,342.9 365.8,359.2" fill="none" stroke="#ff8a8a" stroke-width="0.7" stroke-linejoin="round" />
<polyline points="349.8,359.2 351.8,357 353.6,352 356.7,342.9 359.3,339.8 362,345.2 363.5,355 364.2,359.2" fill="none" stroke="#78a5f2" stroke-width="0.7" stroke-linejoin="round" />
<polyline points="330.3,359.2 343,359.2 345.5,358 347.6,355 349.8,347.4 354.4,336.1 358.2,342.9 361,351 362.7,355.8 363.5,359.2 409.2,359.2" fill="none" stroke="#66cfa0" stroke-width="0.7" stroke-linejoin="round" />
<text x="330.5" y="366" font-size="3.6" text-anchor="middle" fill="#444" >1</text>
<text x="370.5" y="366" font-size="3.6" text-anchor="middle" fill="#444" >10</text>
<text x="409.5" y="366" font-size="3.6" text-anchor="middle" fill="#444" >100</text>
<text x="370.2" y="371.5" font-size="3.45" text-anchor="middle" fill="#444" >Time (ms)</text>
<line x1="359.9" y1="370.3" x2="352.3" y2="382.4" stroke="#111" stroke-width="0.9"/>
<polygon points="359.9,370.3 359.63,372.69 357.87,371.57" fill="#111"/>
<rect x="473.3" y="323.3" width="53.6" height="38.4" fill="#fff" stroke="#9a9a9a" stroke-width="0.75"/>
<polyline points="474.8,358.4 480,353.5 487.2,342.8 493,350.5 500.6,358.8" fill="none" stroke="#7a7a7a" stroke-width="0.7" stroke-linejoin="round" />
<polyline points="474.8,358.4 484.6,349.3 494.1,358.4" fill="none" stroke="#ff8a8a" stroke-width="0.7" stroke-linejoin="round" />
<text x="510.9" y="365.8" font-size="3.6" text-anchor="middle" fill="#444" >5000</text>
<text x="526.6" y="366" font-size="3.6" text-anchor="middle" fill="#444" >10000</text>
<text x="499.6" y="370.5" font-size="3.45" text-anchor="middle" fill="#444" >Time (ms)</text>
<line x1="488.9" y1="367.5" x2="488.9" y2="383.3" stroke="#111" stroke-width="0.9"/>
<polygon points="488.9,367.5 489.94,369.66 487.86,369.66" fill="#111"/>
<line x1="480.4" y1="328.5" x2="492.1" y2="328.5" stroke="#7a7a7a" stroke-width="0.8"/>
<text x="493.7" y="330.4" font-size="5.4" text-anchor="start" fill="#111" stroke="#111" stroke-width="0.18">WRS</text>
<line x1="480.4" y1="334.6" x2="492.1" y2="334.6" stroke="#ff8a8a" stroke-width="0.8"/>
<text x="493.7" y="336.5" font-size="5.4" text-anchor="start" fill="#111" stroke="#111" stroke-width="0.18">WRS+ 2%PEC</text>
</svg>
</body></html>
